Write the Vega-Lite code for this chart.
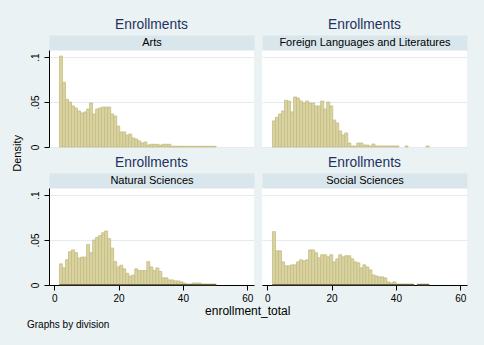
{
"$schema": "https://vega.github.io/schema/vega-lite/v6.json",
"background": "#eaf2f3",
"padding": {"left": 11, "top": 17, "right": 30, "bottom": 30},
"config": {
 "view": {"stroke": null},
 "font": "Liberation Sans",
 "title": {"font": "Liberation Sans", "fontSize": 13.8, "fontWeight": "normal", "color": "#1e3160", "offset": 5, "anchor": "middle", "baseline": "alphabetic"},
 "axis": {"labelFont": "Liberation Sans", "titleFont": "Liberation Sans", "labelColor": "black", "titleColor": "black", "domainColor": "black", "tickColor": "black", "titleFontWeight": "normal", "gridColor": "#e3ebee", "domainWidth": 1, "tickWidth": 1}
},
"datasets": {"hist": [
{"division":"Arts","lo":1.6,"hi":2.537,"density":0.101},
{"division":"Arts","lo":2.537,"hi":3.474,"density":0.072},
{"division":"Arts","lo":3.474,"hi":4.411,"density":0.053},
{"division":"Arts","lo":4.411,"hi":5.348,"density":0.050},
{"division":"Arts","lo":5.348,"hi":6.285,"density":0.0456},
{"division":"Arts","lo":6.285,"hi":7.222,"density":0.0433},
{"division":"Arts","lo":7.222,"hi":8.159,"density":0.040},
{"division":"Arts","lo":8.159,"hi":9.096,"density":0.0378},
{"division":"Arts","lo":9.096,"hi":10.033,"density":0.0389},
{"division":"Arts","lo":10.033,"hi":10.97,"density":0.0422},
{"division":"Arts","lo":10.97,"hi":11.907,"density":0.049},
{"division":"Arts","lo":11.907,"hi":12.844,"density":0.0367},
{"division":"Arts","lo":12.844,"hi":13.781,"density":0.0422},
{"division":"Arts","lo":13.781,"hi":14.718,"density":0.0433},
{"division":"Arts","lo":14.718,"hi":15.655,"density":0.0444},
{"division":"Arts","lo":15.655,"hi":16.592,"density":0.0444},
{"division":"Arts","lo":16.592,"hi":17.529,"density":0.0444},
{"division":"Arts","lo":17.529,"hi":18.466,"density":0.0367},
{"division":"Arts","lo":18.466,"hi":19.403,"density":0.0344},
{"division":"Arts","lo":19.403,"hi":20.34,"density":0.0233},
{"division":"Arts","lo":20.34,"hi":21.277,"density":0.0167},
{"division":"Arts","lo":21.277,"hi":22.214,"density":0.0167},
{"division":"Arts","lo":22.214,"hi":23.151,"density":0.0133},
{"division":"Arts","lo":23.151,"hi":24.088,"density":0.0144},
{"division":"Arts","lo":24.088,"hi":25.025,"density":0.010},
{"division":"Arts","lo":25.025,"hi":25.962,"density":0.0089},
{"division":"Arts","lo":25.962,"hi":26.899,"density":0.0067},
{"division":"Arts","lo":26.899,"hi":27.836,"density":0.0044},
{"division":"Arts","lo":27.836,"hi":28.773,"density":0.0056},
{"division":"Arts","lo":28.773,"hi":29.71,"density":0.0022},
{"division":"Arts","lo":29.71,"hi":30.647,"density":0.003},
{"division":"Arts","lo":30.647,"hi":31.584,"density":0.003},
{"division":"Arts","lo":31.584,"hi":32.521,"density":0.003},
{"division":"Arts","lo":32.521,"hi":33.458,"density":0.002},
{"division":"Arts","lo":33.458,"hi":34.395,"density":0.003},
{"division":"Arts","lo":34.395,"hi":35.332,"density":0.003},
{"division":"Arts","lo":35.332,"hi":36.269,"density":0.003},
{"division":"Arts","lo":36.269,"hi":37.206,"density":0.0008},
{"division":"Arts","lo":37.206,"hi":38.143,"density":0.0008},
{"division":"Arts","lo":38.143,"hi":39.08,"density":0.0008},
{"division":"Arts","lo":39.08,"hi":40.017,"density":0.0008},
{"division":"Arts","lo":40.017,"hi":40.954,"density":0.0008},
{"division":"Arts","lo":40.954,"hi":41.891,"density":0.0008},
{"division":"Arts","lo":41.891,"hi":42.828,"density":0.0008},
{"division":"Arts","lo":42.828,"hi":43.765,"density":0.0008},
{"division":"Arts","lo":43.765,"hi":44.702,"density":0.0008},
{"division":"Arts","lo":44.702,"hi":45.639,"density":0.0008},
{"division":"Arts","lo":45.639,"hi":46.576,"density":0.0008},
{"division":"Arts","lo":46.576,"hi":47.513,"density":0.0008},
{"division":"Arts","lo":47.513,"hi":48.45,"density":0.0008},
{"division":"Arts","lo":48.45,"hi":49.387,"density":0.0008},
{"division":"Arts","lo":49.387,"hi":50.324,"density":0.0008},
{"division":"Foreign Languages and Literatures","lo":1.6,"hi":2.537,"density":0.029},
{"division":"Foreign Languages and Literatures","lo":2.537,"hi":3.474,"density":0.033},
{"division":"Foreign Languages and Literatures","lo":3.474,"hi":4.411,"density":0.0367},
{"division":"Foreign Languages and Literatures","lo":4.411,"hi":5.348,"density":0.040},
{"division":"Foreign Languages and Literatures","lo":5.348,"hi":6.285,"density":0.052},
{"division":"Foreign Languages and Literatures","lo":6.285,"hi":7.222,"density":0.051},
{"division":"Foreign Languages and Literatures","lo":7.222,"hi":8.159,"density":0.039},
{"division":"Foreign Languages and Literatures","lo":8.159,"hi":9.096,"density":0.0556},
{"division":"Foreign Languages and Literatures","lo":9.096,"hi":10.033,"density":0.0544},
{"division":"Foreign Languages and Literatures","lo":10.033,"hi":10.97,"density":0.0511},
{"division":"Foreign Languages and Literatures","lo":10.97,"hi":11.907,"density":0.0489},
{"division":"Foreign Languages and Literatures","lo":11.907,"hi":12.844,"density":0.0511},
{"division":"Foreign Languages and Literatures","lo":12.844,"hi":13.781,"density":0.0489},
{"division":"Foreign Languages and Literatures","lo":13.781,"hi":14.718,"density":0.0489},
{"division":"Foreign Languages and Literatures","lo":14.718,"hi":15.655,"density":0.0456},
{"division":"Foreign Languages and Literatures","lo":15.655,"hi":16.592,"density":0.0456},
{"division":"Foreign Languages and Literatures","lo":16.592,"hi":17.529,"density":0.0511},
{"division":"Foreign Languages and Literatures","lo":17.529,"hi":18.466,"density":0.0422},
{"division":"Foreign Languages and Literatures","lo":18.466,"hi":19.403,"density":0.050},
{"division":"Foreign Languages and Literatures","lo":19.403,"hi":20.34,"density":0.0456},
{"division":"Foreign Languages and Literatures","lo":20.34,"hi":21.277,"density":0.030},
{"division":"Foreign Languages and Literatures","lo":21.277,"hi":22.214,"density":0.0267},
{"division":"Foreign Languages and Literatures","lo":22.214,"hi":23.151,"density":0.0178},
{"division":"Foreign Languages and Literatures","lo":23.151,"hi":24.088,"density":0.0133},
{"division":"Foreign Languages and Literatures","lo":24.088,"hi":25.025,"density":0.0156},
{"division":"Foreign Languages and Literatures","lo":25.025,"hi":25.962,"density":0.0044},
{"division":"Foreign Languages and Literatures","lo":25.962,"hi":26.899,"density":0.0011},
{"division":"Foreign Languages and Literatures","lo":26.899,"hi":27.836,"density":0.0011},
{"division":"Foreign Languages and Literatures","lo":27.836,"hi":28.773,"density":0.0044},
{"division":"Foreign Languages and Literatures","lo":28.773,"hi":29.71,"density":0.0044},
{"division":"Foreign Languages and Literatures","lo":29.71,"hi":30.647,"density":0.0022},
{"division":"Foreign Languages and Literatures","lo":30.647,"hi":31.584,"density":0.0022},
{"division":"Foreign Languages and Literatures","lo":31.584,"hi":32.521,"density":0.0011},
{"division":"Foreign Languages and Literatures","lo":32.521,"hi":33.458,"density":0.0033},
{"division":"Foreign Languages and Literatures","lo":33.458,"hi":34.395,"density":0.0011},
{"division":"Foreign Languages and Literatures","lo":34.395,"hi":35.332,"density":0.0011},
{"division":"Foreign Languages and Literatures","lo":35.332,"hi":36.269,"density":0.0011},
{"division":"Foreign Languages and Literatures","lo":36.269,"hi":37.206,"density":0.0011},
{"division":"Foreign Languages and Literatures","lo":37.206,"hi":38.143,"density":0.0011},
{"division":"Foreign Languages and Literatures","lo":38.143,"hi":39.08,"density":0.0011},
{"division":"Foreign Languages and Literatures","lo":39.08,"hi":40.017,"density":0.0011},
{"division":"Foreign Languages and Literatures","lo":40.017,"hi":40.954,"density":0.0011},
{"division":"Foreign Languages and Literatures","lo":42.828,"hi":43.765,"density":0.0011},
{"division":"Foreign Languages and Literatures","lo":49.387,"hi":50.324,"density":0.0011},
{"division":"Natural Sciences","lo":1.6,"hi":2.537,"density":0.0235},
{"division":"Natural Sciences","lo":2.537,"hi":3.474,"density":0.019},
{"division":"Natural Sciences","lo":3.474,"hi":4.411,"density":0.028},
{"division":"Natural Sciences","lo":4.411,"hi":5.348,"density":0.037},
{"division":"Natural Sciences","lo":5.348,"hi":6.285,"density":0.039},
{"division":"Natural Sciences","lo":6.285,"hi":7.222,"density":0.036},
{"division":"Natural Sciences","lo":7.222,"hi":8.159,"density":0.030},
{"division":"Natural Sciences","lo":8.159,"hi":9.096,"density":0.031},
{"division":"Natural Sciences","lo":9.096,"hi":10.033,"density":0.031},
{"division":"Natural Sciences","lo":10.033,"hi":10.97,"density":0.045},
{"division":"Natural Sciences","lo":10.97,"hi":11.907,"density":0.036},
{"division":"Natural Sciences","lo":11.907,"hi":12.844,"density":0.050},
{"division":"Natural Sciences","lo":12.844,"hi":13.781,"density":0.053},
{"division":"Natural Sciences","lo":13.781,"hi":14.718,"density":0.055},
{"division":"Natural Sciences","lo":14.718,"hi":15.655,"density":0.058},
{"division":"Natural Sciences","lo":15.655,"hi":16.592,"density":0.060},
{"division":"Natural Sciences","lo":16.592,"hi":17.529,"density":0.0515},
{"division":"Natural Sciences","lo":17.529,"hi":18.466,"density":0.041},
{"division":"Natural Sciences","lo":18.466,"hi":19.403,"density":0.026},
{"division":"Natural Sciences","lo":19.403,"hi":20.34,"density":0.020},
{"division":"Natural Sciences","lo":20.34,"hi":21.277,"density":0.022},
{"division":"Natural Sciences","lo":21.277,"hi":22.214,"density":0.018},
{"division":"Natural Sciences","lo":22.214,"hi":23.151,"density":0.013},
{"division":"Natural Sciences","lo":23.151,"hi":24.088,"density":0.010},
{"division":"Natural Sciences","lo":24.088,"hi":25.025,"density":0.011},
{"division":"Natural Sciences","lo":25.025,"hi":25.962,"density":0.018},
{"division":"Natural Sciences","lo":25.962,"hi":26.899,"density":0.016},
{"division":"Natural Sciences","lo":26.899,"hi":27.836,"density":0.016},
{"division":"Natural Sciences","lo":27.836,"hi":28.773,"density":0.016},
{"division":"Natural Sciences","lo":28.773,"hi":29.71,"density":0.026},
{"division":"Natural Sciences","lo":29.71,"hi":30.647,"density":0.020},
{"division":"Natural Sciences","lo":30.647,"hi":31.584,"density":0.016},
{"division":"Natural Sciences","lo":31.584,"hi":32.521,"density":0.019},
{"division":"Natural Sciences","lo":32.521,"hi":33.458,"density":0.015},
{"division":"Natural Sciences","lo":33.458,"hi":34.395,"density":0.008},
{"division":"Natural Sciences","lo":34.395,"hi":35.332,"density":0.008},
{"division":"Natural Sciences","lo":35.332,"hi":36.269,"density":0.0056},
{"division":"Natural Sciences","lo":36.269,"hi":37.206,"density":0.0056},
{"division":"Natural Sciences","lo":37.206,"hi":38.143,"density":0.0045},
{"division":"Natural Sciences","lo":38.143,"hi":39.08,"density":0.0045},
{"division":"Natural Sciences","lo":39.08,"hi":40.017,"density":0.0034},
{"division":"Natural Sciences","lo":40.017,"hi":40.954,"density":0.0022},
{"division":"Natural Sciences","lo":40.954,"hi":41.891,"density":0.0011},
{"division":"Natural Sciences","lo":41.891,"hi":42.828,"density":0.0011},
{"division":"Natural Sciences","lo":42.828,"hi":43.765,"density":0.0022},
{"division":"Natural Sciences","lo":43.765,"hi":44.702,"density":0.0022},
{"division":"Natural Sciences","lo":44.702,"hi":45.639,"density":0.0022},
{"division":"Natural Sciences","lo":45.639,"hi":46.576,"density":0.0011},
{"division":"Natural Sciences","lo":46.576,"hi":47.513,"density":0.0011},
{"division":"Natural Sciences","lo":47.513,"hi":48.45,"density":0.0011},
{"division":"Natural Sciences","lo":48.45,"hi":49.387,"density":0.0011},
{"division":"Natural Sciences","lo":49.387,"hi":50.324,"density":0.0011},
{"division":"Social Sciences","lo":1.6,"hi":2.537,"density":0.0593},
{"division":"Social Sciences","lo":2.537,"hi":3.474,"density":0.038},
{"division":"Social Sciences","lo":3.474,"hi":4.411,"density":0.038},
{"division":"Social Sciences","lo":4.411,"hi":5.348,"density":0.0257},
{"division":"Social Sciences","lo":5.348,"hi":6.285,"density":0.0213},
{"division":"Social Sciences","lo":6.285,"hi":7.222,"density":0.0213},
{"division":"Social Sciences","lo":7.222,"hi":8.159,"density":0.0224},
{"division":"Social Sciences","lo":8.159,"hi":9.096,"density":0.0224},
{"division":"Social Sciences","lo":9.096,"hi":10.033,"density":0.0257},
{"division":"Social Sciences","lo":10.033,"hi":10.97,"density":0.028},
{"division":"Social Sciences","lo":10.97,"hi":11.907,"density":0.0269},
{"division":"Social Sciences","lo":11.907,"hi":12.844,"density":0.028},
{"division":"Social Sciences","lo":12.844,"hi":13.781,"density":0.039},
{"division":"Social Sciences","lo":13.781,"hi":14.718,"density":0.039},
{"division":"Social Sciences","lo":14.718,"hi":15.655,"density":0.0358},
{"division":"Social Sciences","lo":15.655,"hi":16.592,"density":0.0302},
{"division":"Social Sciences","lo":16.592,"hi":17.529,"density":0.0336},
{"division":"Social Sciences","lo":17.529,"hi":18.466,"density":0.0336},
{"division":"Social Sciences","lo":18.466,"hi":19.403,"density":0.0313},
{"division":"Social Sciences","lo":19.403,"hi":20.34,"density":0.0336},
{"division":"Social Sciences","lo":20.34,"hi":21.277,"density":0.0257},
{"division":"Social Sciences","lo":21.277,"hi":22.214,"density":0.029},
{"division":"Social Sciences","lo":22.214,"hi":23.151,"density":0.0336},
{"division":"Social Sciences","lo":23.151,"hi":24.088,"density":0.0313},
{"division":"Social Sciences","lo":24.088,"hi":25.025,"density":0.0325},
{"division":"Social Sciences","lo":25.025,"hi":25.962,"density":0.0325},
{"division":"Social Sciences","lo":25.962,"hi":26.899,"density":0.029},
{"division":"Social Sciences","lo":26.899,"hi":27.836,"density":0.0257},
{"division":"Social Sciences","lo":27.836,"hi":28.773,"density":0.0246},
{"division":"Social Sciences","lo":28.773,"hi":29.71,"density":0.019},
{"division":"Social Sciences","lo":29.71,"hi":30.647,"density":0.0224},
{"division":"Social Sciences","lo":30.647,"hi":31.584,"density":0.020},
{"division":"Social Sciences","lo":31.584,"hi":32.521,"density":0.0168},
{"division":"Social Sciences","lo":32.521,"hi":33.458,"density":0.0112},
{"division":"Social Sciences","lo":33.458,"hi":34.395,"density":0.010},
{"division":"Social Sciences","lo":34.395,"hi":35.332,"density":0.009},
{"division":"Social Sciences","lo":35.332,"hi":36.269,"density":0.009},
{"division":"Social Sciences","lo":36.269,"hi":37.206,"density":0.0078},
{"division":"Social Sciences","lo":37.206,"hi":38.143,"density":0.0034},
{"division":"Social Sciences","lo":38.143,"hi":39.08,"density":0.0022},
{"division":"Social Sciences","lo":39.08,"hi":40.017,"density":0.0034},
{"division":"Social Sciences","lo":40.017,"hi":40.954,"density":0.0011},
{"division":"Social Sciences","lo":40.954,"hi":41.891,"density":0.0011},
{"division":"Social Sciences","lo":41.891,"hi":42.828,"density":0.0011},
{"division":"Social Sciences","lo":42.828,"hi":43.765,"density":0.0011},
{"division":"Social Sciences","lo":43.765,"hi":44.702,"density":0.0011},
{"division":"Social Sciences","lo":44.702,"hi":45.639,"density":0.0011},
{"division":"Social Sciences","lo":46.576,"hi":47.513,"density":0.0011},
{"division":"Social Sciences","lo":47.513,"hi":48.45,"density":0.0011},
{"division":"Social Sciences","lo":48.45,"hi":49.387,"density":0.0011},
{"division":"Social Sciences","lo":49.387,"hi":50.324,"density":0.0011}
]},
"title": {"text": "Graphs by division", "orient": "bottom", "anchor": "start", "frame": "bounds", "dx": 15.5, "offset": 3, "fontSize": 10, "color": "black", "baseline": "top"},
"vconcat": [{
 "title": {"text": "enrollment_total", "orient": "bottom", "anchor": "middle", "frame": "bounds", "dx": 8.5, "offset": 3, "fontSize": 12, "color": "black", "baseline": "top"},
 "vconcat": [{
  "title": {"text": "Density", "orient": "left", "anchor": "middle", "frame": "bounds", "dx": 7, "offset": -3.5, "fontSize": 11, "color": "black", "baseline": "bottom"},
  "columns": 2,
  "spacing": {"row": 5, "column": 8},
  "concat": [
  {"title": "Enrollments", "width": 205, "height": 97, "view": {"fill": "white", "stroke": null},
   "data": {"name": "hist"},
   "transform": [{"filter": "datum.division === 'Arts'"}],
   "mark": {"type": "bar", "fill": "#d8d3a0", "stroke": "#c5bd83", "strokeWidth": 0.8},
   "encoding": {
    "x": {"field": "lo", "type": "quantitative", "scale": {"domain": [-1.65, 62.1], "nice": false, "zero": false},
     "axis": {"orient": "top", "offset": 7.5, "domain": true, "domainColor": "#d9e6ec", "domainWidth": 15, "ticks": false, "labels": false, "grid": false, "title": "Arts", "titleFontSize": 11, "titleX": 102.5, "titleY": 0, "titleAlign": "center", "titleBaseline": "middle"}},
    "x2": {"field": "hi"},
    "y": {"field": "density", "type": "quantitative", "scale": {"domain": [0, 0.1078], "nice": false},
     "axis": {"values": [0, 0.05, 0.1], "labelExpr": "datum.value == 0 ? '0' : replace(format(datum.value, '.2~f'), '0.', '.')", "labelAngle": 270, "labelFontSize": 10, "tickSize": 5, "labelPadding": 4, "grid": true, "title": null}},
    "y2": {"datum": 0}
   }},
  {"title": "Enrollments", "width": 205, "height": 97, "view": {"fill": "white", "stroke": null},
   "data": {"name": "hist"},
   "transform": [{"filter": "datum.division === 'Foreign Languages and Literatures'"}],
   "mark": {"type": "bar", "fill": "#d8d3a0", "stroke": "#c5bd83", "strokeWidth": 0.8},
   "encoding": {
    "x": {"field": "lo", "type": "quantitative", "scale": {"domain": [-1.65, 62.1], "nice": false, "zero": false},
     "axis": {"orient": "top", "offset": 7.5, "domain": true, "domainColor": "#d9e6ec", "domainWidth": 15, "ticks": false, "labels": false, "grid": false, "title": "Foreign Languages and Literatures", "titleFontSize": 11, "titleX": 102.5, "titleY": 0, "titleAlign": "center", "titleBaseline": "middle"}},
    "x2": {"field": "hi"},
    "y": {"field": "density", "type": "quantitative", "scale": {"domain": [0, 0.1078], "nice": false},
     "axis": {"values": [0, 0.05, 0.1], "grid": true, "domain": false, "ticks": false, "labels": false, "title": null}},
    "y2": {"datum": 0}
   }},
  {"title": "Enrollments", "width": 205, "height": 97, "view": {"fill": "white", "stroke": null},
   "data": {"name": "hist"},
   "transform": [{"filter": "datum.division === 'Natural Sciences'"}],
   "resolve": {"axis": {"x": "independent"}},
   "layer": [
    {"mark": {"type": "bar", "fill": "#d8d3a0", "stroke": "#c5bd83", "strokeWidth": 0.8},
     "encoding": {
      "x": {"field": "lo", "type": "quantitative", "scale": {"domain": [-1.65, 62.1], "nice": false, "zero": false},
       "axis": {"orient": "top", "offset": 7.5, "domain": true, "domainColor": "#d9e6ec", "domainWidth": 15, "ticks": false, "labels": false, "grid": false, "title": "Natural Sciences", "titleFontSize": 11, "titleX": 102.5, "titleY": 0, "titleAlign": "center", "titleBaseline": "middle"}},
      "x2": {"field": "hi"},
      "y": {"field": "density", "type": "quantitative", "scale": {"domain": [0, 0.1078], "nice": false},
       "axis": {"values": [0, 0.05, 0.1], "labelExpr": "datum.value == 0 ? '0' : replace(format(datum.value, '.2~f'), '0.', '.')", "labelAngle": 270, "labelFontSize": 10, "tickSize": 5, "labelPadding": 4, "grid": true, "title": null}},
      "y2": {"datum": 0}
     }},
    {"mark": {"type": "rule", "color": "black", "strokeWidth": 1},
     "encoding": {
      "x": {"field": "lo", "type": "quantitative", "scale": {"domain": [-1.65, 62.1], "nice": false, "zero": false},
       "axis": {"orient": "bottom", "values": [0, 20, 40, 60], "format": "d", "labelFontSize": 10, "tickSize": 5, "labelPadding": 3, "grid": false, "title": null}},
      "x2": {"field": "hi"},
      "y": {"datum": 0}
     }}
   ]},
  {"title": "Enrollments", "width": 205, "height": 97, "view": {"fill": "white", "stroke": null},
   "data": {"name": "hist"},
   "transform": [{"filter": "datum.division === 'Social Sciences'"}],
   "resolve": {"axis": {"x": "independent"}},
   "layer": [
    {"mark": {"type": "bar", "fill": "#d8d3a0", "stroke": "#c5bd83", "strokeWidth": 0.8},
     "encoding": {
      "x": {"field": "lo", "type": "quantitative", "scale": {"domain": [-1.65, 62.1], "nice": false, "zero": false},
       "axis": {"orient": "top", "offset": 7.5, "domain": true, "domainColor": "#d9e6ec", "domainWidth": 15, "ticks": false, "labels": false, "grid": false, "title": "Social Sciences", "titleFontSize": 11, "titleX": 102.5, "titleY": 0, "titleAlign": "center", "titleBaseline": "middle"}},
      "x2": {"field": "hi"},
      "y": {"field": "density", "type": "quantitative", "scale": {"domain": [0, 0.1078], "nice": false},
       "axis": {"values": [0, 0.05, 0.1], "grid": true, "domain": false, "ticks": false, "labels": false, "title": null}},
      "y2": {"datum": 0}
     }},
    {"mark": {"type": "rule", "color": "black", "strokeWidth": 1},
     "encoding": {
      "x": {"field": "lo", "type": "quantitative", "scale": {"domain": [-1.65, 62.1], "nice": false, "zero": false},
       "axis": {"orient": "bottom", "values": [0, 20, 40, 60], "format": "d", "labelFontSize": 10, "tickSize": 5, "labelPadding": 3, "grid": false, "title": null}},
      "x2": {"field": "hi"},
      "y": {"datum": 0}
     }}
   ]}
  ]
 }]
}]
}
